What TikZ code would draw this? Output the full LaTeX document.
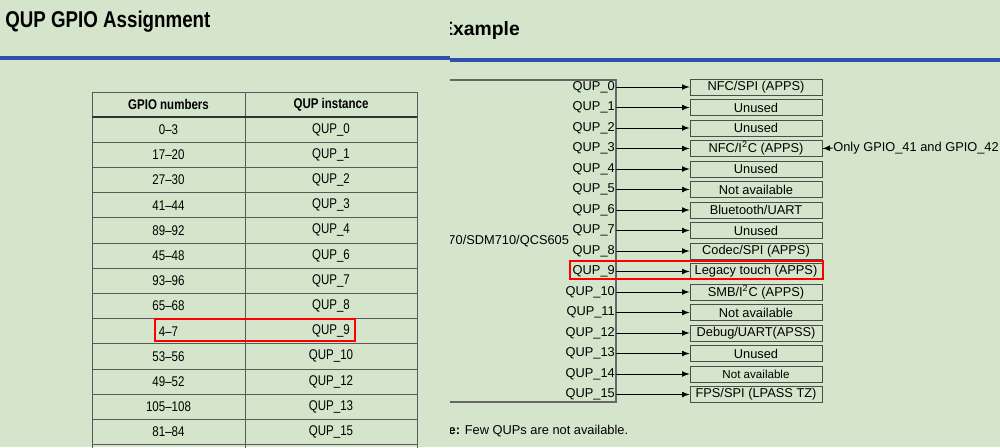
\documentclass[tikz,border=0pt]{standalone}
\usepackage{fontspec}
\setmainfont{Liberation Sans}
\newfontfamily\narrowf[FakeStretch=0.82,Ligatures=TeX]{Liberation Sans}
\begin{document}
\begin{tikzpicture}[x=0.02cm,y=-0.02cm,
  rbox/.style={draw=black!70,line width=0.5pt,minimum width=132*0.02cm,minimum height=16*0.02cm,inner sep=0pt,font=\fontsize{7.3}{8}\selectfont},
  qlbl/.style={anchor=east,inner sep=0.5pt,font=\fontsize{7.3}{9}\selectfont},
  arr/.style={-latex,line width=0.5pt},
  cell/.style={font=\narrowf\fontsize{8}{9}\selectfont,inner sep=0pt},
  hl/.style={draw=red,line width=1.3pt}]
\definecolor{bgc}{HTML}{D5E5CB}
\definecolor{blu}{HTML}{2F4FB0}
\useasboundingbox (0,0) rectangle (1000,447);
\fill[bgc] (0,0) rectangle (1000,447);
% ---------- right slide ----------
\node[anchor=west,font=\bfseries\fontsize{11}{12}\selectfont,inner sep=0] (t2) at (440,30) {Example};
\fill[blu] (450,58) rectangle (1000,61.5);
\draw[gray!80!black,line width=0.6pt] (440,80) -- (616,80) -- (616,402) -- (440,402);
\node[anchor=west,inner sep=0,font=\fontsize{7.3}{9}\selectfont] (soc) at (441,241) {570/SDM710/QCS605};
\foreach \i/\t in {0/NFC\slash SPI (APPS),1/Unused,2/Unused,3/NFC\slash I\textsuperscript{2}C (APPS),4/Unused,5/Not available,6/Bluetooth\slash UART,7/Unused,8/Codec\slash SPI (APPS),9/Legacy touch (APPS),10/SMB\slash I\textsuperscript{2}C (APPS),11/Not available,12/Debug\slash UART(APSS),13/Unused,14/{\fontsize{6.6}{8}\selectfont Not available},15/FPS\slash SPI (LPASS TZ)}{
  \pgfmathsetmacro\yy{87+20.5*\i}
  \node[qlbl] (q\i) at (616,\yy) {QUP\_\i};
  \node[rbox] (b\i) at (756,\yy) {\t};
  \draw[arr] (q\i.east) -- (b\i.west);
}
\node[anchor=west,inner sep=0,font=\fontsize{7.3}{9}\selectfont] (only) at (833,148) {Only GPIO\_41 and GPIO\_42};
\draw[arr] (only.west) -- (b3.east);
\draw[hl] (570,261) rectangle (823,279);
\node[anchor=west,inner sep=0,font=\fontsize{7.3}{9}\selectfont] (note) at (427,431) {\textbf{Note:} Few QUPs are not available.};
% ---------- left slide (covers) ----------
\fill[bgc] (0,0) rectangle (450,447);
\node[anchor=west,font=\narrowf\bfseries\fontsize{13}{14}\selectfont,inner sep=0] (t1) at (5,22) {QUP GPIO Assignment};
\fill[blu] (0,56) rectangle (450,59.5);
\draw[gray!70!black,line width=0.5pt] (92,92) rectangle (417,460);
\draw[gray!70!black,line width=0.5pt] (245,92) -- (245,460);
\node[cell,font=\narrowf\bfseries\fontsize{8}{9}\selectfont] (h1) at (168.5,104.5) {GPIO numbers};
\node[cell,font=\narrowf\bfseries\fontsize{8}{9}\selectfont] (h2) at (331,104.5) {QUP instance};
\draw[black!80,line width=1.3pt] (92,117) -- (417,117);
\foreach \i/\a/\b in {0/0–3/0,1/17–20/1,2/27–30/2,3/41–44/3,4/89–92/4,5/45–48/6,6/93–96/7,7/65–68/8,8/4–7/9,9/53–56/10,10/49–52/12,11/105–108/13,12/81–84/15}{
  \pgfmathsetmacro\yy{117+25.2*(\i+0.5)}
  \pgfmathsetmacro\yl{117+25.2*(\i+1)}
  \node[cell] (g\i) at (168.5,\yy) {\a};
  \node[cell] (u\i) at (331,\yy) {QUP\_\b};
  \draw[gray!70!black,line width=0.5pt] (92,\yl) -- (417,\yl);
}
\draw[hl] (155,319) rectangle (355,341);
\end{tikzpicture}
\end{document}
